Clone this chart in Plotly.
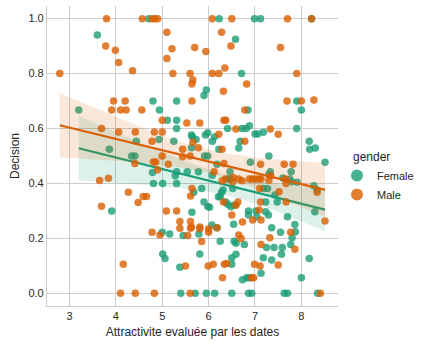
import numpy as np
import plotly.graph_objects as go

# Attractiveness rating received from dates vs. share of positive decisions, by gender
female_attr = [
    3.60, 3.20, 3.86, 4.71, 5.95, 5.90, 4.80, 5.31, 4.94, 5.11, 5.31, 5.31, 4.44, 4.93, 5.63, 5.65,
    5.73, 5.93, 5.98, 5.25, 5.63, 4.34, 4.41, 5.91, 5.98, 4.79, 5.31, 5.54, 5.78, 6.23, 6.99, 7.12,
    8.22, 6.58, 6.71, 7.90, 8.00, 6.85, 6.41, 6.72, 6.81, 6.88, 7.90, 7.00, 7.06, 7.18, 6.13, 6.08,
    6.68, 6.65, 6.22, 8.17, 8.18, 8.30, 7.30, 8.51, 6.18, 6.90, 6.46, 7.33, 7.78,
    4.81, 5.01, 5.31, 3.91, 5.28, 5.68, 5.64, 5.85, 5.90, 5.98, 6.02, 5.00, 5.16, 5.45, 5.79, 5.01,
    5.06, 5.81, 5.38, 5.40, 5.71, 5.95, 6.13, 6.50, 6.86, 6.93, 7.63, 7.70, 8.35, 6.08, 6.42, 6.47,
    6.52, 6.21, 6.25, 6.28, 6.31, 6.37, 6.41, 6.48, 6.55, 6.54, 6.86, 6.86, 7.02, 7.04, 6.07, 6.18,
    6.25, 6.55, 6.59, 6.77, 6.59, 6.50, 6.50, 6.82, 6.88, 7.13, 7.30, 7.60, 7.75, 7.79, 7.91, 8.27,
    8.34, 7.18, 7.27, 7.43, 7.48, 7.23, 7.70, 7.23, 7.29, 7.86, 7.87, 7.55, 7.36, 7.80, 7.25, 7.41,
    7.59, 7.77, 7.57, 7.18, 7.36, 8.17, 8.00, 8.29, 6.73,
]
female_dec = [
    0.94, 0.667, 0.525, 1.0, 0.74, 0.72, 0.70, 0.70, 0.667, 0.63, 0.63, 0.60, 0.554, 0.56, 0.576, 0.57,
    0.56, 0.576, 0.585, 0.554, 0.53, 0.50, 0.50, 0.50, 0.50, 0.44, 0.443, 0.443, 0.443, 1.0, 1.0, 1.0,
    1.0, 0.925, 0.80, 0.70, 0.667, 0.667, 0.60, 0.60, 0.60, 0.61, 0.60, 0.58, 0.58, 0.586, 0.57, 0.554,
    0.554, 0.529, 0.525, 0.554, 0.525, 0.529, 0.50, 0.477, 0.47, 0.477, 0.443, 0.443, 0.443,
    0.40, 0.40, 0.40, 0.30, 0.428, 0.368, 0.295, 0.382, 0.333, 0.316, 0.313, 0.222, 0.216, 0.211, 0.216, 0.143,
    0.127, 0.143, 0.095, 0.0, 0.0, 0.0, 0.0, 0.0, 0.0, 0.0, 0.0, 0.0, 0.0, 0.43, 0.416, 0.416,
    0.382, 0.352, 0.352, 0.368, 0.376, 0.333, 0.324, 0.315, 0.321, 0.252, 0.30, 0.285, 0.30, 0.279, 0.249, 0.239,
    0.19, 0.19, 0.182, 0.178, 0.142, 0.13, 0.106, 0.057, 0.057, 0.073, 0.433, 0.42, 0.416, 0.406, 0.404, 0.392,
    0.376, 0.382, 0.382, 0.358, 0.333, 0.333, 0.279, 0.297, 0.285, 0.251, 0.224, 0.222, 0.239, 0.202, 0.167, 0.167,
    0.167, 0.178, 0.142, 0.13, 0.121, 0.127, 0.057, 0.297, 0.05,
]

male_attr = [
    3.80, 4.57, 4.78, 4.84, 4.90, 3.78, 3.99, 4.06, 2.79, 4.36, 3.95, 4.20, 3.91, 4.10, 4.22, 4.56,
    3.69, 4.06, 4.42, 4.83, 5.00, 4.78, 5.10, 5.21, 5.10, 5.70, 5.94, 5.23, 5.60, 5.66, 5.64, 5.64,
    5.00, 5.53, 5.81, 5.66, 5.44, 5.78, 4.41, 4.81, 4.86, 5.00, 5.13, 5.44, 5.60, 4.90,
    6.08, 6.50, 7.70, 8.22, 6.28, 6.48, 7.55, 6.08, 6.22, 6.35, 7.90, 6.32, 6.82, 7.69, 8.00, 8.27,
    6.78, 6.33, 6.37, 6.59, 7.33, 7.50, 6.22, 6.78, 6.29, 6.33, 7.12, 7.63, 7.82,
    3.65, 3.84, 4.27, 3.69, 4.16, 4.10, 4.42, 4.83, 4.48, 4.59, 4.66, 5.09, 5.31, 5.38, 5.38, 5.61,
    5.61, 5.61, 5.64, 4.78, 4.95, 5.55, 5.81, 5.85, 6.00, 6.00, 5.50, 5.99, 5.60, 6.12, 6.53, 6.29,
    6.36, 6.52, 6.65, 6.72, 6.88, 6.95, 7.02, 7.09, 6.32, 6.59, 6.63, 6.50, 6.73, 6.95, 7.13, 5.63,
    5.81, 6.18, 6.65, 6.70, 6.10, 6.34, 6.39, 6.30, 6.93, 6.97, 7.11, 6.99, 7.34, 7.66, 7.67, 7.13,
    7.30, 8.34, 7.10, 7.52, 7.67, 7.12, 7.09, 7.77, 7.32, 7.13, 7.86, 7.50, 8.51, 8.41,
]
male_dec = [
    1.0, 1.0, 1.0, 1.0, 1.0, 0.90, 0.885, 0.84, 0.80, 0.81, 0.70, 0.70, 0.667, 0.667, 0.667, 0.667,
    0.60, 0.587, 0.587, 0.587, 0.587, 0.554, 0.95, 0.89, 0.855, 0.895, 0.88, 0.80, 0.80, 0.777, 0.762, 0.70,
    0.63, 0.62, 0.62, 0.55, 0.525, 0.53, 0.473, 0.478, 0.478, 0.50, 0.47, 0.497, 0.50, 0.45,
    1.0, 1.0, 1.0, 1.0, 0.95, 0.90, 0.895, 0.80, 0.80, 0.82, 0.80, 0.736, 0.762, 0.70, 0.70, 0.704,
    0.667, 0.63, 0.63, 0.598, 0.598, 0.579, 0.579, 0.554, 0.525, 0.473, 0.47, 0.47, 0.47,
    0.411, 0.419, 0.368, 0.317, 0.106, 0.0, 0.0, 0.0, 0.331, 0.353, 0.353, 0.30, 0.30, 0.262, 0.237, 0.237,
    0.262, 0.354, 0.382, 0.222, 0.212, 0.211, 0.235, 0.189, 0.235, 0.222, 0.10, 0.10, 0.0, 0.443, 0.422, 0.41,
    0.416, 0.406, 0.416, 0.41, 0.416, 0.416, 0.416, 0.416, 0.333, 0.321, 0.333, 0.285, 0.26, 0.267, 0.267, 0.242,
    0.242, 0.239, 0.212, 0.20, 0.106, 0.106, 0.109, 0.057, 0.057, 0.057, 0.10, 0.106, 0.428, 0.416, 0.40, 0.416,
    0.412, 0.368, 0.382, 0.37, 0.333, 0.333, 0.303, 0.222, 0.202, 0.178, 0.161, 0.103, 0.263, 0.0,
]

groups = [
    ("Female", female_attr, female_dec, "#1b9e77", "rgba(27,158,119,0.15)"),
    ("Male", male_attr, male_dec, "#d95f02", "rgba(217,95,2,0.15)"),
]

T_CRIT = 1.975  # two-sided 95% Student t for ~150 observations

FONT = "Liberation Sans, Arial, sans-serif"
fig = go.Figure()

for name, xs, ys, color, band in groups:
    x = np.asarray(xs, dtype=float)
    y = np.asarray(ys, dtype=float)
    n = len(x)
    slope, intercept = np.polyfit(x, y, 1)
    resid = y - (slope * x + intercept)
    s = np.sqrt(np.sum(resid ** 2) / (n - 2))
    xbar = x.mean()
    sxx = np.sum((x - xbar) ** 2)
    grid = np.linspace(x.min(), x.max(), 100)
    fit = slope * grid + intercept
    half = T_CRIT * s * np.sqrt(1.0 / n + (grid - xbar) ** 2 / sxx)

    fig.add_trace(go.Scatter(
        x=x, y=y, mode="markers", name=name, legendgroup=name,
        marker=dict(color=color, size=7.5, opacity=0.8, line=dict(width=0)),
    ))
    fig.add_trace(go.Scatter(
        x=np.concatenate([grid, grid[::-1]]),
        y=np.concatenate([fit + half, (fit - half)[::-1]]),
        fill="toself", fillcolor=band, line=dict(width=0), mode="lines",
        hoverinfo="skip", showlegend=False, legendgroup=name,
    ))
    fig.add_trace(go.Scatter(
        x=grid, y=fit, mode="lines", line=dict(color=color, width=2.2),
        showlegend=False, legendgroup=name,
    ))

axis_common = dict(
    showgrid=True, gridcolor="#cccccc", gridwidth=1,
    showline=True, linecolor="#cccccc", linewidth=1.25,
    zeroline=False, ticks="", tickfont=dict(size=11, color="#262626", family=FONT),
    mirror=False,
)

fig.update_layout(
    width=421, height=346,
    margin=dict(l=47, r=83, t=6, b=40, autoexpand=False),
    paper_bgcolor="white", plot_bgcolor="white",
    font=dict(family=FONT, color="#262626"),
    xaxis=dict(
        range=[2.515, 8.79], tickvals=[3, 4, 5, 6, 7, 8],
        title=dict(text="Attractivite evaluée par les dates", font=dict(size=12), standoff=6),
        **axis_common,
    ),
    yaxis=dict(
        range=[-0.046, 1.046], tickvals=[0, 0.2, 0.4, 0.6, 0.8, 1.0], tickformat=".1f",
        title=dict(text="Decision", font=dict(size=12), standoff=6),
        **axis_common,
    ),
    legend=dict(
        xref="container", yref="container",
        x=337 / 421, y=1 - 161 / 346, xanchor="left", yanchor="top",
        font=dict(size=11), bgcolor="rgba(0,0,0,0)", itemsizing="constant",
        tracegroupgap=0,
    ),
    showlegend=True,
    annotations=[dict(
        text="gender", xref="paper", yref="paper",
        x=(351 - 47) / 291, y=(306 - 157) / 300, xanchor="left", yanchor="middle",
        showarrow=False, font=dict(size=12, color="#262626"),
    )],
)

fig.write_html("out.html")
